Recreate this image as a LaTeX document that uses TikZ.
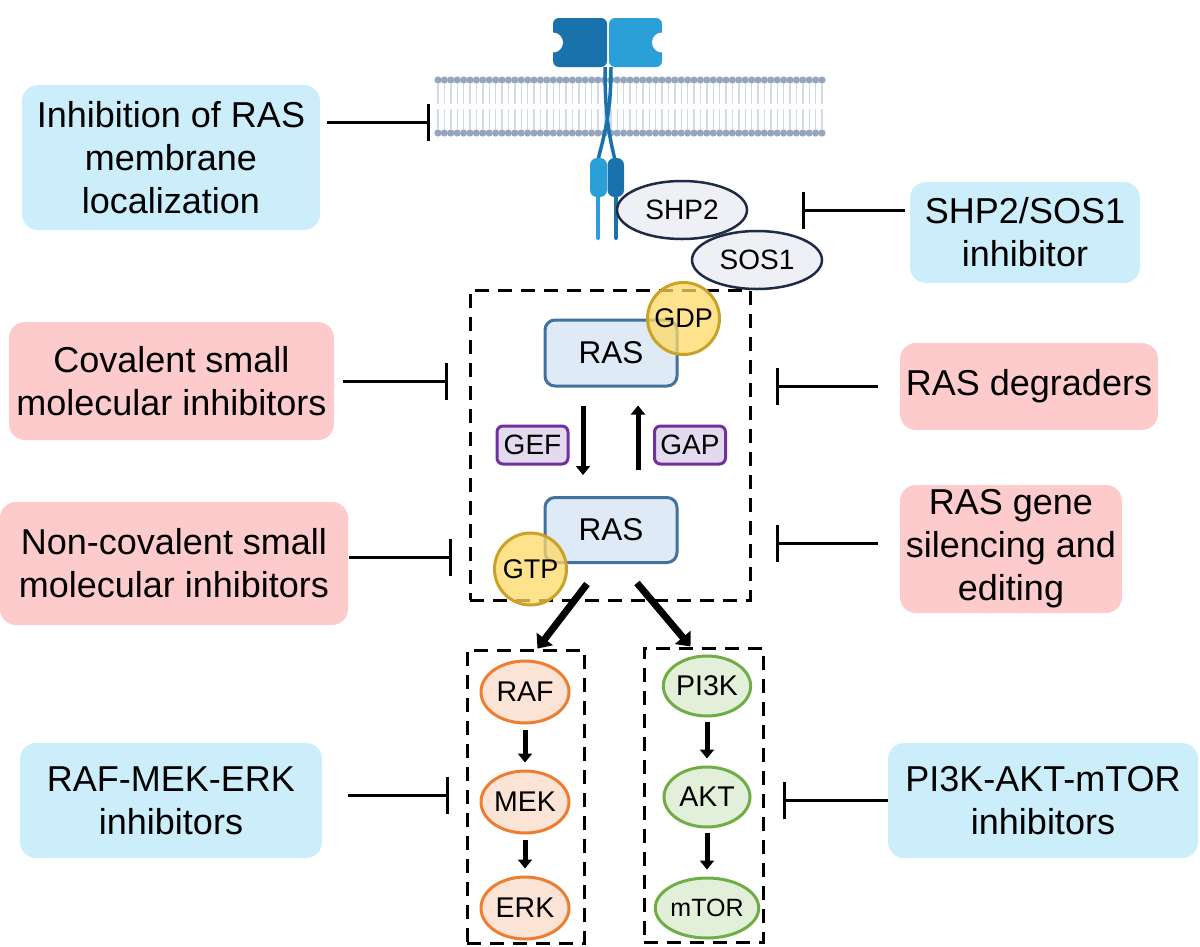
\documentclass[tikz,border=0pt]{standalone}
\usepackage{fontspec}
\setmainfont{Liberation Sans}
\usetikzlibrary{arrows.meta,shapes.geometric}

\definecolor{bluebg}{HTML}{CCEEFA}
\definecolor{pinkbg}{HTML}{FDCBCB}
\definecolor{rasfill}{HTML}{DEEBF7}
\definecolor{rasline}{HTML}{41719C}
\definecolor{nucfill}{HTML}{FFD966}
\definecolor{nucline}{HTML}{C9A227}
\definecolor{gefill}{HTML}{E4DAEF}
\definecolor{geline}{HTML}{7030A0}
\definecolor{rafill}{HTML}{FBE3D6}
\definecolor{raline}{HTML}{ED7D31}
\definecolor{pifill}{HTML}{E2F0D9}
\definecolor{piline}{HTML}{70AD47}
\definecolor{adfill}{HTML}{EEF0F5}
\definecolor{adline}{HTML}{1F2A44}
\definecolor{rtkdark}{HTML}{1A72AC}
\definecolor{rtklight}{HTML}{2A9FD8}
\definecolor{lipid}{HTML}{95A5BD}
\definecolor{lipidtail}{HTML}{D3DAE7}

\tikzset{
  infobox/.style={rounded corners=16pt, inner sep=0pt, align=center, font=\fontsize{36}{43}\selectfont},
  blubox/.style={infobox, fill=bluebg},
  pinkbox/.style={infobox, fill=pinkbg},
  inh/.style={line width=3pt, -{Bar[width=37pt]}},
  grp/.style={draw, line width=3pt, dash pattern=on 14pt off 9pt, inner sep=0pt},
  rasnode/.style={draw=rasline, fill=rasfill, line width=3pt, rounded corners=10pt, minimum width=132pt, minimum height=66pt, inner sep=0pt, font=\fontsize{31.5}{31.5}\selectfont},
  nuc/.style={circle, draw=nucline, fill=nucfill, fill opacity=.75, text opacity=1, line width=3pt, minimum size=72pt, inner sep=0pt, font=\fontsize{27}{27}\selectfont},
  gxnode/.style={draw=geline, fill=gefill, line width=3pt, rounded corners=6pt, minimum width=71pt, minimum height=38pt, inner sep=0pt, font=\fontsize{28}{28}\selectfont},
  adapt/.style={ellipse, draw=adline, fill=adfill, line width=2.5pt, minimum width=130pt, minimum height=58pt, inner sep=0pt, font=\fontsize{28}{28}\selectfont},
  mapk/.style={ellipse, draw=raline, fill=rafill, line width=3pt, minimum width=88pt, minimum height=62pt, inner sep=0pt, font=\fontsize{28.5}{28.5}\selectfont},
  pikn/.style={ellipse, draw=piline, fill=pifill, line width=3pt, minimum width=86pt, minimum height=60pt, inner sep=0pt, font=\fontsize{28.5}{28.5}\selectfont},
  sig/.style={line width=5pt, -{Triangle[length=9pt,width=14pt]}},
  bigsig/.style={line width=7pt, -{Triangle[length=12pt,width=20pt]}},
}

\begin{document}
\begin{tikzpicture}[x=1pt,y=-1pt]
\useasboundingbox (0,0) rectangle (1200,946);

% membrane
\foreach \i in {0,...,60} {
  \pgfmathsetmacro\hx{438+6.4*\i}
  \draw[lipidtail, line width=1.4pt] (\hx,84) -- (\hx,104) (\hx,109) -- (\hx,129);
  \fill[lipid] (\hx,80) circle (3.6pt);
  \fill[lipid] (\hx,133) circle (3.6pt);
}
\coordinate (memL) at (437,122);

% receptor
\fill[rtkdark, rounded corners=6pt] (553,18) rectangle (607,67);
\fill[rtklight, rounded corners=6pt] (609,18) rectangle (662,67);
\fill[white] (553,42.5) circle (10pt);
\fill[white] (662,42.5) circle (10pt);
\draw[rtkdark, line width=3.5pt] (605,67) .. controls (605,115) and (609,135) .. (615,160);
\draw[rtkdark, line width=3.5pt] (611,67) .. controls (611,115) and (604,135) .. (598,160);
\fill[rtklight, rounded corners=7pt] (590,158) rectangle (607,197);
\fill[rtkdark, rounded corners=7pt] (607.5,158) rectangle (624,197);
\draw[rtklight, line width=4pt, line cap=round] (598,195) -- (598,238);
\draw[rtkdark, line width=4pt, line cap=round] (616,195) -- (616,238);

\node[adapt] (shp) at (682,210) {SHP2};
\node[adapt] (sos) at (757,260) {SOS1};

% inhibitor boxes
\node[blubox, minimum width=298pt, minimum height=145pt] (membox) at (171,157.5) {Inhibition of RAS\\membrane\\localization};
\node[blubox, minimum width=230pt, minimum height=101pt] (shpbox) at (1025,232.5) {SHP2/SOS1\\inhibitor};
\node[pinkbox, minimum width=325pt, minimum height=118pt] (covbox) at (171.5,381) {Covalent small\\molecular inhibitors};
\node[pinkbox, minimum width=348pt, minimum height=123pt] (ncovbox) at (174,563.5) {Non-covalent small\\molecular inhibitors};
\node[pinkbox, minimum width=258pt, minimum height=87pt] (degbox) at (1029,386.5) {RAS degraders};
\node[pinkbox, minimum width=222pt, minimum height=128pt] (genebox) at (1011,549) {RAS gene\\silencing and\\editing};
\node[blubox, minimum width=302pt, minimum height=115pt] (rmebox) at (171,800.5) {RAF-MEK-ERK\\inhibitors};
\node[blubox, minimum width=310pt, minimum height=115pt] (pikbox) at (1043,800.5) {PI3K-AKT-mTOR\\inhibitors};

% RAS cycle
\node[grp, minimum width=280pt, minimum height=310pt] (rasgrp) at (610,445) {};
\node[rasnode] (rasT) at (611,353) {RAS};
\node[rasnode, minimum height=65pt] (rasB) at (611,530) {RAS};
\node[nuc] (gdp) at ([xshift=5pt]rasT.north east) {GDP};
\node[nuc] (gtp) at ([xshift=-13pt,yshift=-5pt]rasB.south west) {GTP};
\node[gxnode] (gef) at (532.5,445) {GEF};
\node[gxnode] (gap) at (690,445) {GAP};
\draw[sig, shorten <=18pt, shorten >=21pt] ([xshift=-28pt]rasT.south) -- ([xshift=-28pt]rasB.north);
\draw[sig, shorten <=26pt, shorten >=18pt] ([xshift=27pt]rasB.north) -- ([xshift=27pt]rasT.south);

% downstream
\node[grp, minimum width=117pt, minimum height=293pt] (rafgrp) at (525.5,796.5) {};
\node[grp, minimum width=119pt, minimum height=294pt] (pikgrp) at (703.5,795) {};
\node[mapk] (raf) at (525,692) {RAF};
\node[mapk] (mek) at (525,802) {MEK};
\node[mapk] (erk) at (525,908) {ERK};
\node[pikn] (pik) at (707,686) {PI3K};
\node[pikn] (akt) at (707,797) {AKT};
\node[pikn, font=\fontsize{25}{25}\selectfont] (mtor) at (707,908) {mTOR};
\draw[bigsig] ([xshift=-24pt,yshift=-20pt]rasB.south) -- ([xshift=12pt]rafgrp.north);
\draw[bigsig] ([xshift=26pt,yshift=-19pt]rasB.south) -- ([xshift=-13pt]pikgrp.north);
\draw[sig, shorten <=5pt, shorten >=7pt] (raf) -- (mek);
\draw[sig, shorten <=5pt, shorten >=7pt] (mek) -- (erk);
\draw[sig, shorten <=4pt, shorten >=7pt] (pik) -- (akt);
\draw[sig, shorten <=4pt, shorten >=7pt] (akt) -- (mtor);

% inhibition
\draw[inh, shorten <=7pt, shorten >=7pt] (membox.east |- memL) -- (memL);
\draw[inh, shorten <=5pt, shorten >=54pt] (shpbox.west |- shp.east) -- (shp.east);
\draw[inh, shorten <=9pt, shorten >=21pt] (covbox.east) -- (covbox.east -| rasgrp.west);
\draw[inh, shorten <=1pt, shorten >=17pt] ([yshift=6pt]ncovbox.east) -- ([yshift=6pt]ncovbox.east -| rasgrp.west);
\draw[inh, shorten <=22pt, shorten >=24pt] (degbox.west) -- (degbox.west -| rasgrp.east);
\draw[inh, shorten <=22pt, shorten >=24pt] ([yshift=6pt]genebox.west) -- ([yshift=6pt]genebox.west -| rasgrp.east);
\draw[inh, shorten <=26pt, shorten >=17pt] ([yshift=5pt]rmebox.east) -- ([yshift=5pt]rmebox.east -| rafgrp.west);
\draw[inh, shorten <=0pt, shorten >=18pt] (pikbox.west) -- (pikbox.west -| pikgrp.east);
\end{tikzpicture}
\end{document}
